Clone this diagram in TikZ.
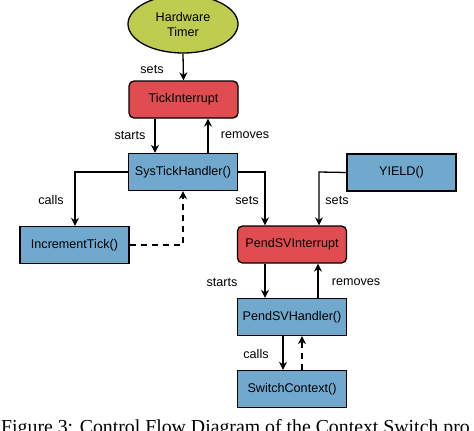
\documentclass[tikz,border=0pt]{standalone}
\usepackage{fontspec}
\setmainfont{Liberation Sans}
\newfontfamily\capfont{Liberation Serif}
\usetikzlibrary{shapes.geometric,arrows.meta}
\definecolor{tgreen}{RGB}{190,204,80}
\definecolor{tred}{RGB}{224,76,80}
\definecolor{tblue}{RGB}{112,168,206}
\begin{document}
\begin{tikzpicture}[x=1pt,y=-1pt,
  font=\fontsize{12.6}{15}\selectfont,
  box/.style={draw=black,line width=1.3pt,fill=tblue,minimum width=109pt,minimum height=37pt,inner sep=0pt},
  intr/.style={draw=black,line width=1.3pt,fill=tred,rounded corners=5pt,minimum width=109pt,minimum height=37pt,inner sep=0pt},
  conn/.style={line width=1.3pt,-{Stealth[length=8pt,width=8pt]}},
  dconn/.style={conn,dash pattern=on 6pt off 5pt},
  lbl/.style={inner sep=0pt}]
\useasboundingbox (0,0) rectangle (474,431);
\node[ellipse,draw=black,line width=1.3pt,fill=tgreen,minimum width=110pt,minimum height=58pt,align=center,inner sep=0pt] (hw) at (183,24) {Hardware\\Timer};
\node[intr] (tick) at (183.5,99.5) {TickInterrupt};
\node[box] (sys) at (183,172) {SysTickHandler()};
\node[box] (inc) at (74.5,245) {IncrementTick()};
\node[intr] (pend) at (292,244.5) {PendSVInterrupt};
\node[box] (yield) at (401.5,172.5) {YIELD()};
\node[box] (psh) at (292,317) {PendSVHandler()};
\node[box] (sw) at (292,389) {SwitchContext()};
\coordinate (c1) at (75,172);
\coordinate (c2) at (183,245);
\coordinate (c3) at (265,172);
\coordinate (c4) at (319,172);
% arrows
\draw[conn] (hw.south) -- (tick.north);
\draw[conn] (tick.south -| 155,0) -- (sys.north -| 155,0);
\draw[conn] (sys.north -| 208,0) -- (tick.south -| 208,0);
\draw[conn] (sys.west) -- (c1) -- (inc.north -| c1);
\draw[dconn] (inc.east) -- (c2) -- (sys.south -| c2);
\draw[conn] (sys.east) -- (c3) -- (pend.north -| c3);
\draw[conn] (yield.west) -- (c4) -- (pend.north -| c4);
\draw[conn] (pend.south -| 265,0) -- (psh.north -| 265,0);
\draw[conn] (psh.north -| 318,0) -- (pend.south -| 318,0);
\draw[conn] (psh.south -| 283,0) -- (sw.north -| 283,0);
\draw[dconn] (sw.north -| 302,0) -- (psh.south -| 302,0);
% labels
\node[lbl] (l1) at (152,69) {sets};
\node[lbl] (l2) at (130,135) {starts};
\node[lbl] (l3) at (245,135) {removes};
\node[lbl] (l4) at (51,200) {calls};
\node[lbl] (l5) at (247,200) {sets};
\node[lbl] (l6) at (337,200) {sets};
\node[lbl] (l7) at (222,282) {starts};
\node[lbl] (l8) at (356,282) {removes};
\node[lbl] (l9) at (256,354) {calls};
\node[anchor=base west,inner sep=0pt,font=\capfont\fontsize{19.8}{22}\selectfont] (cap) at (1,433) {Figure 3: Control Flow Diagram of the Context Switch pro};
\end{tikzpicture}
\end{document}
